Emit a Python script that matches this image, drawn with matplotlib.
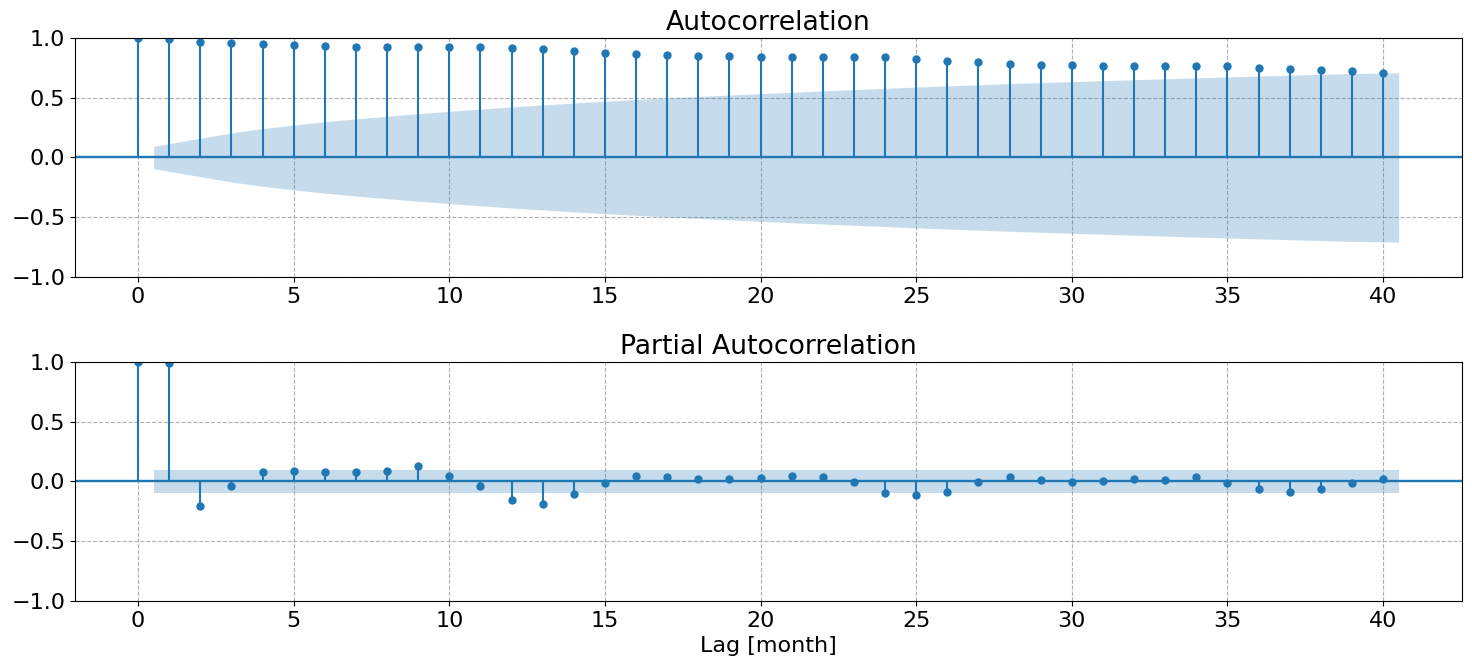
#!/usr/bin/python
""" ACF and PACF stem plots with confidence bands, monthly lags """
import numpy as np
import matplotlib
matplotlib.use('Agg')
import matplotlib.pyplot as plt

plt.rcParams['font.size'] = 16

lags = np.arange(41)
nobs = 440

acf_vals = [1.000, 0.989, 0.969, 0.955, 0.947, 0.939, 0.930, 0.922, 0.922, 0.922,
            0.922, 0.922, 0.914, 0.905, 0.894, 0.877, 0.864, 0.855, 0.847, 0.847,
            0.838, 0.838, 0.838, 0.838, 0.838, 0.827, 0.811, 0.802, 0.786, 0.777,
            0.772, 0.763, 0.763, 0.763, 0.763, 0.763, 0.752, 0.744, 0.735, 0.721,
            0.710]

pacf_vals = [1.000, 0.992, -0.208, -0.039, 0.079, 0.087, 0.079, 0.079, 0.087, 0.130,
             0.045, -0.039, -0.158, -0.192, -0.107, -0.014, 0.045, 0.037, 0.020, 0.020,
             0.028, 0.045, 0.037, -0.006, -0.099, -0.115, -0.090, -0.006, 0.037, 0.011,
             -0.006, 0.003, 0.020, 0.011, 0.037, -0.014, -0.065, -0.090, -0.065, -0.014,
             0.020]


def acf_band(acf, n):
    """ Bartlett's formula, same as statsmodels """
    acf = np.asarray(acf)
    var = np.ones(len(acf)) / n
    var[0] = 0
    var[2:] *= 1 + 2 * np.cumsum(acf[1:-1] ** 2)
    return 1.96 * np.sqrt(var)


def pacf_band(pacf, n):
    band = np.full(len(pacf), 1.96 / np.sqrt(n))
    band[0] = 0
    return band


def draw_corr(ax, vals, band, title):
    vals = np.asarray(vals)
    x = lags[1:].astype(float)
    x[0] -= 0.5
    x[-1] += 0.5
    ax.fill_between(x, -band[1:], band[1:], alpha=0.25, linewidth=0, color='C0')
    ax.vlines(lags, [0], vals, color='C0', linewidth=1.5)
    ax.plot(lags, vals, marker='o', markersize=5, linestyle='None', color='C0')
    ax.axhline(0, color='C0', linewidth=1.7)
    ax.margins(0.05, 0.05)
    ax.set_ylim(-1, 1)
    ax.set_yticks([-1, -0.5, 0, 0.5, 1])
    ax.grid(True, linestyle='--')
    ax.set_axisbelow(True)
    ax.set_title(title)


fig, (ax1, ax2) = plt.subplots(2, 1, figsize=(14.72, 6.72), dpi=100)
draw_corr(ax1, acf_vals, acf_band(acf_vals, nobs), 'Autocorrelation')
draw_corr(ax2, pacf_vals, pacf_band(pacf_vals, nobs), 'Partial Autocorrelation')
ax2.set_xlabel('Lag [month]')

fig.subplots_adjust(left=0.051, right=0.993, top=0.9435, bottom=0.1057, hspace=0.356)
fig.savefig('out.png')
